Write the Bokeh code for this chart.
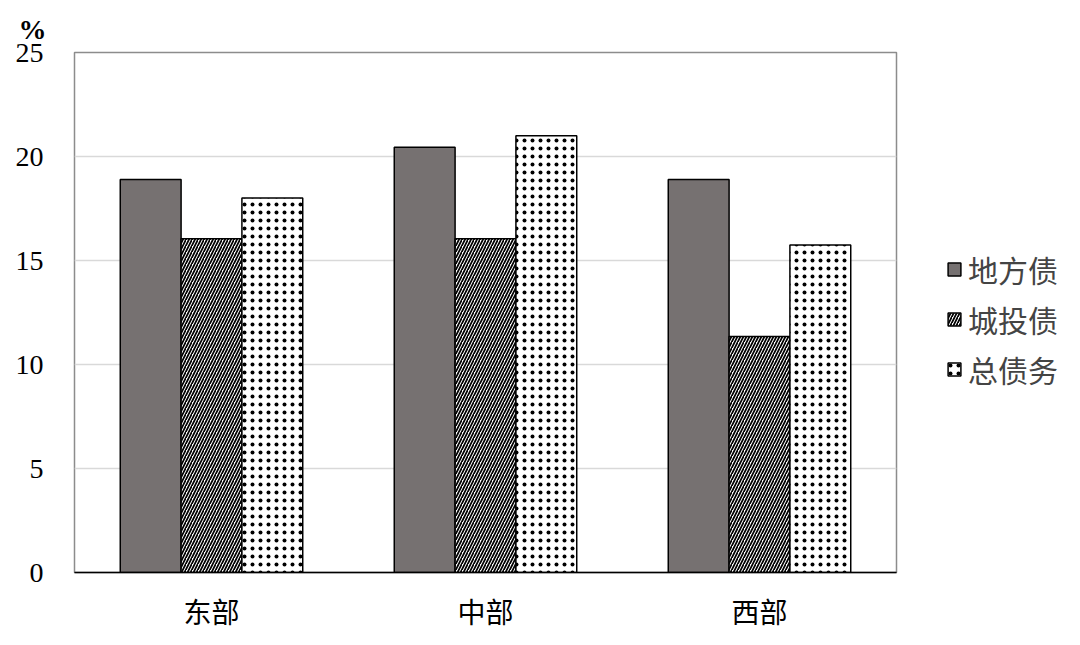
from bokeh.plotting import figure
from bokeh.models import ColumnDataSource, Legend, LegendItem, Title
from bokeh.transform import dodge
from bokeh.embed import file_html
from bokeh.resources import INLINE

regions = ["东部", "中部", "西部"]
local_bond = [18.9, 20.45, 18.9]
chengtou_bond = [16.05, 16.05, 11.35]
total_debt = [18.0, 21.0, 15.75]
series_names = ["地方债", "城投债", "总债务"]
y_ticks = [0, 5, 10, 15, 20, 25]

src = ColumnDataSource(dict(region=regions, local=local_bond, chengtou=chengtou_bond, total=total_debt))

p = figure(x_range=regions, y_range=(0, 25), frame_width=822, frame_height=520,
           output_backend="svg", toolbar_location=None,
           min_border_left=74, min_border_top=52, min_border_right=168, min_border_bottom=60)

bw = 0.222
r1 = p.vbar(x=dodge("region", -bw, range=p.x_range), top="local", width=bw, source=src,
            fill_color="#767171", line_color="black", line_width=1.5)
r2 = p.vbar(x=dodge("region", 0, range=p.x_range), top="chengtou", width=bw, source=src,
            fill_color="white", line_color="black", line_width=1.5,
            hatch_pattern="right_diagonal_line", hatch_color="black", hatch_scale=6, hatch_weight=1.7)
r3 = p.vbar(x=dodge("region", bw, range=p.x_range), top="total", width=bw, source=src,
            fill_color="white", line_color="black", line_width=1.5,
            hatch_pattern="dot", hatch_color="black", hatch_scale=8, hatch_weight=0.9)

p.outline_line_color = "#8c8c8c"
p.outline_line_width = 1.5
p.xgrid.grid_line_color = None
p.ygrid.grid_line_color = "#d9d9d9"
p.ygrid.grid_line_width = 1.5

p.yaxis.ticker = y_ticks
p.yaxis.axis_line_color = None
p.yaxis.major_tick_line_color = None
p.yaxis.minor_tick_line_color = None
p.yaxis.major_label_text_font = "Liberation Serif"
p.yaxis.major_label_text_font_size = "28px"
p.yaxis.major_label_text_color = "black"
p.yaxis.major_label_standoff = 25

p.xaxis.axis_line_color = "black"
p.xaxis.axis_line_width = 1.5
p.xaxis.major_tick_line_color = None
p.xaxis.minor_tick_line_color = None
p.xaxis.major_label_text_font = "Noto Sans CJK SC"
p.xaxis.major_label_text_font_size = "28px"
p.xaxis.major_label_text_color = "black"
p.xaxis.major_label_standoff = 12
p.x_range.range_padding = 0

legend = Legend(items=[LegendItem(label=series_names[0], renderers=[r1]),
                       LegendItem(label=series_names[1], renderers=[r2]),
                       LegendItem(label=series_names[2], renderers=[r3])],
                location=(50, 181), border_line_color=None, background_fill_alpha=0,
                glyph_width=16, glyph_height=16, label_text_font="Noto Sans CJK SC",
                label_text_font_size="30px", spacing=6, padding=0,
                margin=0, label_standoff=6)
p.add_layout(legend, "right")

pct = Title(text="%", align="left", offset=-56, standoff=16,
            text_font="Liberation Serif", text_font_size="28px", text_font_style="bold",
            text_color="black")
p.add_layout(pct, "above")

open("out.html", "w").write(file_html(p, INLINE))
